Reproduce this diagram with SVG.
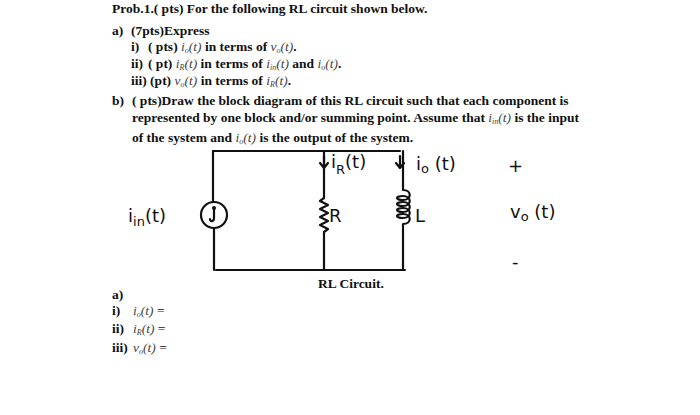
<svg xmlns="http://www.w3.org/2000/svg" width="700" height="415" viewBox="0 0 700 415">
<style>
.t{font-family:"Liberation Serif",serif;font-weight:bold;font-size:13.5px;fill:#111}
.m{font-family:"Liberation Serif",serif;font-style:italic;font-weight:normal;fill:#444}
.s{font-size:8px}
.h{font-family:"DejaVu Sans",sans-serif;font-size:18px;fill:#111}
.w{stroke:#111;stroke-width:2.2;fill:none;stroke-linecap:round;stroke-linejoin:round}
</style>
<rect width="700" height="415" fill="#fff"/>
<text class="t" x="112" y="13">Prob.1.( pts) For the following RL circuit shown below.</text>
<text class="t" x="112" y="35">a)</text><text class="t" x="131" y="35">(7pts)Express</text>
<text class="t" x="131" y="51">i)</text><text class="t" x="148" y="51">( pts) <tspan class="m">i</tspan><tspan class="m s" dy="2">o</tspan><tspan class="m" dy="-2">(t)</tspan> in terms of <tspan class="m">v</tspan><tspan class="m s" dy="2">o</tspan><tspan class="m" dy="-2">(t)</tspan>.</text>
<text class="t" x="131" y="68">ii)</text><text class="t" x="148" y="68">( pt) <tspan class="m">i</tspan><tspan class="m s" dy="2">R</tspan><tspan class="m" dy="-2">(t)</tspan> in terms of <tspan class="m">i</tspan><tspan class="m s" dy="2">in</tspan><tspan class="m" dy="-2">(t)</tspan> and <tspan class="m">i</tspan><tspan class="m s" dy="2">o</tspan><tspan class="m" dy="-2">(t)</tspan>.</text>
<text class="t" x="131" y="85">iii) (pt) <tspan class="m">v</tspan><tspan class="m s" dy="2">o</tspan><tspan class="m" dy="-2">(t)</tspan> in terms of <tspan class="m">i</tspan><tspan class="m s" dy="2">R</tspan><tspan class="m" dy="-2">(t)</tspan>.</text>
<text class="t" x="112" y="105">b)</text><text class="t" x="132" y="105">( pts)Draw the block diagram of this RL circuit such that each component is</text>
<text class="t" x="132" y="122">represented by one block and/or summing point. Assume that <tspan class="m">i</tspan><tspan class="m s" dy="2">in</tspan><tspan class="m" dy="-2">(t)</tspan> is the input</text>
<text class="t" x="132" y="142">of the system and <tspan class="m">i</tspan><tspan class="m s" dy="2">o</tspan><tspan class="m" dy="-2">(t)</tspan> is the output of the system.</text>
<g id="wires" class="w">
<path d="M213 151 H400"/>
<path d="M213 151 V202"/>
<path d="M214 228 V270"/>
<path d="M216 270 H405"/>
<path d="M324 151 V198 l-4 3 l8 4 l-8 4 l8 4 l-8 4 l8 4 l-8 4 l8 4 l-4 3 V270"/>
<path d="M403 151 V190 c9 0 9 10 0 10 c-8 0 -8 -4 0 -4 c9 0 9 10 0 10 c-8 0 -8 -4 0 -4 c9 0 9 10 0 10 c-8 0 -8 -4 0 -4 c9 0 9 10 0 10 c-8 0 -8 -4 0 -4 c9 0 9 10 0 10 M403 224 V270"/>
<path d="M324 156 v12 M320 163 l4 5 l4 -5"/>
<path d="M400 156 v12 M396 163 l4 5 l4 -5"/>
</g>
<g id="source">
<circle cx="214" cy="215" r="13" class="w"/>
<path class="w" d="M214 208 v10 c0 4 -4 4 -4 1"/>
<circle cx="214" cy="208" r="2" fill="#111"/>
</g>
<text class="h" x="128" y="222">i<tspan font-size="13" dy="4">in</tspan><tspan dy="-4">(t)</tspan></text>
<text class="h" x="331" y="168">i<tspan font-size="13" dy="6">R</tspan><tspan dy="-6">(t)</tspan></text>
<text class="h" x="416" y="170">i<tspan font-size="13" dy="3">o</tspan><tspan dy="-3"> (t)</tspan></text>
<text class="h" x="329" y="222">R</text>
<text class="h" x="415" y="222">L</text>
<text class="h" x="510" y="218">v<tspan font-size="13" dy="3">o</tspan><tspan dy="-3"> (t)</tspan></text>
<text class="h" x="508" y="172" font-size="28">+</text>
<text class="h" x="512" y="268" font-size="22">-</text>
<text class="t" x="318" y="288" font-size="12.5">RL Circuit.</text>
<text class="t" x="112" y="299" font-size="12.5">a)</text>
<text class="t" x="112" y="315" font-size="12.5">i)</text><text class="t" x="133" y="315" font-size="12.5"><tspan class="m">i</tspan><tspan class="m s" dy="2">o</tspan><tspan class="m" dy="-2">(t)</tspan> <tspan font-weight="normal">=</tspan></text>
<text class="t" x="112" y="333" font-size="12.5">ii)</text><text class="t" x="133" y="333" font-size="12.5"><tspan class="m">i</tspan><tspan class="m s" dy="2">R</tspan><tspan class="m" dy="-2">(t)</tspan> <tspan font-weight="normal">=</tspan></text>
<text class="t" x="112" y="352" font-size="12.5">iii)</text><text class="t" x="133" y="352" font-size="12.5"><tspan class="m">v</tspan><tspan class="m s" dy="2">o</tspan><tspan class="m" dy="-2">(t)</tspan> <tspan font-weight="normal">=</tspan></text>
</svg>
